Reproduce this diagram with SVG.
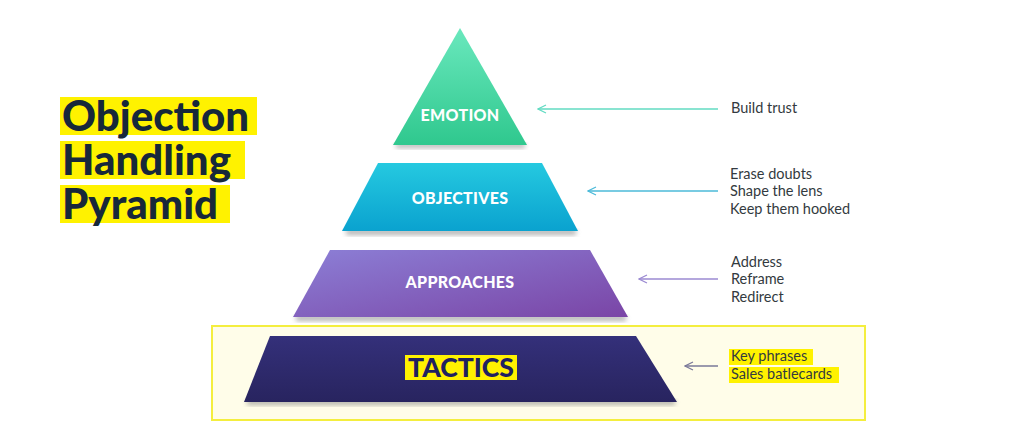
<svg xmlns="http://www.w3.org/2000/svg" width="1024" height="445" viewBox="0 0 1024 445">
<defs>
<linearGradient id="gEmo" x1="0" y1="0" x2="0" y2="1"><stop offset="0" stop-color="#6ae8bd"/><stop offset="1" stop-color="#2fc88e"/></linearGradient>
<linearGradient id="gObj" x1="0" y1="0" x2="0" y2="1"><stop offset="0" stop-color="#25c9e0"/><stop offset="1" stop-color="#0aa2cf"/></linearGradient>
<linearGradient id="gApp" x1="0" y1="0" x2="1" y2="1"><stop offset="0" stop-color="#8c7fd6"/><stop offset="1" stop-color="#7a45a6"/></linearGradient>
<linearGradient id="gTac" x1="0" y1="0" x2="0" y2="1"><stop offset="0" stop-color="#34307a"/><stop offset="1" stop-color="#28245f"/></linearGradient>
<filter id="sh" x="-10%" y="-10%" width="120%" height="140%"><feGaussianBlur stdDeviation="2.5"/></filter>
<marker id="ah" viewBox="0 0 10 10" refX="9" refY="5" markerWidth="10" markerHeight="10" markerUnits="userSpaceOnUse" orient="auto"><path d="M1,1 L9,5 L1,9" fill="none" stroke="context-stroke" stroke-width="1.2"/></marker>
</defs>
<style>
.title{font-family:"Lato","Liberation Sans",Arial,sans-serif;font-weight:900;font-size:42px;fill:#17283a}
.hl{fill:#fff200}
.lbl{font-family:"Lato","Liberation Sans",sans-serif;font-weight:900;font-size:16px;fill:#ffffff;text-anchor:middle;letter-spacing:0.3px}
.note{font-family:"Lato","Liberation Sans",sans-serif;font-size:14.5px;fill:#333a40}
.shadow{fill:#777;opacity:0.55}
.conn line{stroke-width:1.3;marker-end:url(#ah)}
</style>
<rect width="1024" height="445" fill="#ffffff"/>

<g id="title">
<rect class="hl" x="60" y="97" width="197" height="38"/>
<rect class="hl" x="60" y="141" width="185" height="38"/>
<rect class="hl" x="60" y="185" width="170" height="38"/>
<text class="title" x="62" y="131">Objection</text>
<text class="title" x="62" y="175">Handling</text>
<text class="title" x="62" y="219">Pyramid</text>
</g>

<g id="tactics-frame">
<rect x="212" y="326" width="653" height="94" fill="#fffde9" stroke="#f4ee3e" stroke-width="2"/>
</g>

<g id="emotion">
<rect class="shadow" x="396" y="143" width="129" height="5" filter="url(#sh)"/>
<polygon points="460,28 527,145 393,145" fill="url(#gEmo)"/>
<text class="lbl" x="460" y="121">EMOTION</text>
</g>

<g id="objectives">
<rect class="shadow" x="346" y="229" width="230" height="6" filter="url(#sh)"/>
<polygon points="378,163 542,163 578,231 342,231" fill="url(#gObj)"/>
<text class="lbl" x="460" y="204">OBJECTIVES</text>
</g>

<g id="approaches">
<rect class="shadow" x="296" y="315" width="330" height="6" filter="url(#sh)"/>
<polygon points="330,250 590,250 628,317 293,317" fill="url(#gApp)"/>
<text class="lbl" x="460" y="288">APPROACHES</text>
</g>

<g id="tactics">
<rect class="shadow" x="247" y="399" width="428" height="6" filter="url(#sh)"/>
<polygon points="270,336 636,336 677,402 244,402" fill="url(#gTac)"/>
<rect class="hl" x="405" y="355" width="112" height="25"/>
<text x="461" y="377" text-anchor="middle" font-family="Lato,'Liberation Sans',sans-serif" font-weight="900" font-size="26" fill="#1f2160" textLength="106" lengthAdjust="spacingAndGlyphs">TACTICS</text>
</g>

<g id="connectors" class="conn">
<line x1="718" y1="109" x2="538" y2="109" stroke="#62dbc2"/>
<line x1="718" y1="191" x2="588" y2="191" stroke="#4bbad9"/>
<line x1="718" y1="279" x2="639" y2="279" stroke="#9b8ad2"/>
<line x1="718" y1="366" x2="685" y2="366" stroke="#7a7898"/>
</g>

<g id="notes">
<text class="note" x="731" y="113">Build trust</text>
<text class="note" x="730" y="179">Erase doubts</text>
<text class="note" x="730" y="196">Shape the lens</text>
<text class="note" x="730" y="214">Keep them hooked</text>
<text class="note" x="731" y="267">Address</text>
<text class="note" x="731" y="284">Reframe</text>
<text class="note" x="731" y="302">Redirect</text>
<rect class="hl" x="729" y="349" width="84" height="16"/>
<rect class="hl" x="729" y="367" width="110" height="16"/>
<text class="note" x="731" y="361">Key phrases</text>
<text class="note" x="731" y="379">Sales batlecards</text>
</g>
</svg>
